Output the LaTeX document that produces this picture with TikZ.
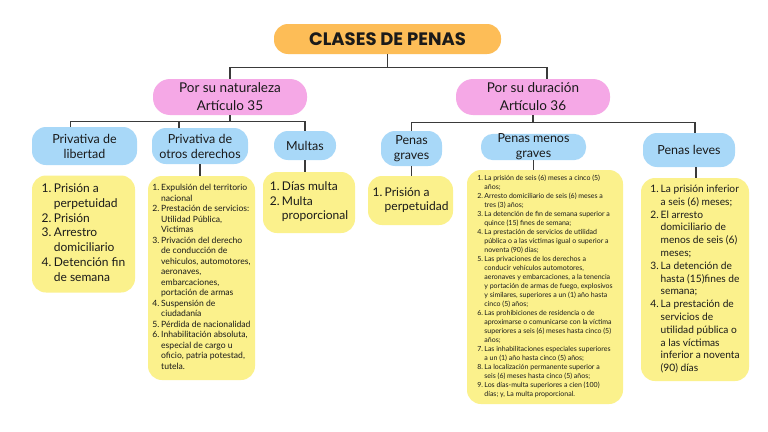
\documentclass[tikz,border=0pt]{standalone}
\usepackage{fontspec}
\setmainfont{Lato}
\newfontfamily\titlefont{Poppins}
\definecolor{naranja}{HTML}{FDBD57}
\definecolor{rosa}{HTML}{F5A8E6}
\definecolor{celeste}{HTML}{A8D8F8}
\definecolor{amarillo}{HTML}{FBF18C}
\definecolor{gris}{HTML}{3A3A3A}
\definecolor{tinta}{HTML}{1A1A1A}
\newcommand{\listado}[3]{{\fontsize{#1}{#2}\selectfont\begin{tabular}{@{}r@{\hspace{.2em}}l@{}}#3\end{tabular}}}
\tikzset{
	linea/.style={draw=gris,line width=1.2pt},
	titulo/.style={fill=naranja,rounded corners=14pt,minimum width=227pt,minimum height=30pt,inner sep=0pt,text=tinta,font=\titlefont\bfseries\fontsize{18}{20}\selectfont},
	tipo/.style={fill=rosa,rounded corners=17pt,minimum width=154pt,minimum height=36pt,inner sep=0pt,align=center,text=tinta,font=\fontsize{13.5}{18}\selectfont},
	clase/.style={fill=celeste,rounded corners=14pt,inner sep=0pt,align=center,text=tinta,font=\fontsize{12.5}{15}\selectfont},
	lista/.style={fill=amarillo,rounded corners=14pt,inner sep=0pt,text=tinta},
}
\begin{document}
\begin{tikzpicture}[x=1pt,y=-1pt]
	\useasboundingbox (0,0) rectangle (768,431);
	\fill[white] (0,0) rectangle (768,431);
	% titulo y tipos
	\node[titulo] (clases) at (387.5,39) {CLASES DE PENAS};
	\node[tipo] (nat) at (230,97) {Por su naturaleza\\Artículo 35};
	\node[tipo] (dur) at (533,97) {Por su duración\\Artículo 36};
	% clases
	\node[clase,minimum width=105pt,minimum height=38pt] (libertad) at (84.5,146) {Privativa de\\libertad};
	\node[clase,minimum width=96pt,minimum height=36pt] (derechos) at (200,146) {Privativa de\\otros derechos};
	\node[clase,minimum width=62pt,minimum height=29pt] (multas) at (305,145.5) {Multas};
	\node[clase,minimum width=61pt,minimum height=35pt] (graves) at (411.5,148.5) {Penas\\graves};
	\node[clase,rounded corners=12pt,minimum width=105pt,minimum height=26pt] (menos) at (533.5,147) {Penas menos\\graves};
	\node[clase,minimum width=92pt,minimum height=34pt] (leves) at (689,150) {Penas leves};
	% listas
	\node[lista,minimum width=103pt,minimum height=117pt] (l1) at (83.5,234) {\listado{12}{14.7}{%
		1. & Prisión a\\ & perpetuidad\\ 2. & Prisión\\ 3. & Arrestro\\ & domiciliario\\ 4. & Detención fin\\ & de semana}};
	\node[lista,minimum width=107pt,minimum height=204pt] (l2) at (201.5,278) {\listado{8.6}{10.5}{%
		1. & Expulsión del territorio\\ & nacional\\
		2. & Prestación de servicios:\\ & Utilidad Pública,\\ & Victimas\\
		3. & Privación del derecho\\ & de conducción de\\ & vehiculos, automotores,\\ & aeronaves,\\ & embarcaciones,\\ & portación de armas\\
		4. & Suspensión de\\ & ciudadanía\\
		5. & Pérdida de nacionalidad\\
		6. & Inhabilitación absoluta,\\ & especial de cargo u\\ & oficio, patria potestad,\\ & tutela.}};
	\node[lista,minimum width=92pt,minimum height=61pt] (l3) at (309,202.5) {\listado{12}{14.5}{%
		1. & Días multa\\ 2. & Multa\\ & proporcional}};
	\node[lista,minimum width=85pt,minimum height=49pt] (l4) at (410.5,200.5) {\listado{12}{14.5}{%
		1. & Prisión a\\ & perpetuidad}};
	\node[lista,minimum width=156pt,minimum height=234pt] (l5) at (545,287) {\listado{7}{9}{%
		1. & La prisión de seis (6) meses a cinco (5)\\ & años;\\
		2. & Arresto domiciliario de seis (6) meses a\\ & tres (3) años;\\
		3. & La detención de fin de semana superior a\\ & quince (15) fines de semana;\\
		4. & La prestación de servicios de utilidad\\ & pública o a las víctimas igual o superior a\\ & noventa (90) días;\\
		5. & Las privaciones de los derechos a\\ & conducir vehículos automotores,\\ & aeronaves y embarcaciones, a la tenencia\\ & y portación de armas de fuego, explosivos\\ & y similares, superiores a un (1) año hasta\\ & cinco (5) años;\\
		6. & Las prohibiciones de residencia o de\\ & aproximarse o comunicarse con la víctima\\ & superiores a seis (6) meses hasta cinco (5)\\ & años;\\
		7. & Las inhabilitaciones especiales superiores\\ & a un (1) año hasta cinco (5) años;\\
		8. & La localización permanente superior a\\ & seis (6) meses hasta cinco (5) años;\\
		9. & Los días-multa superiores a cien (100)\\ & días; y, La multa proporcional.}};
	\node[lista,minimum width=108pt,minimum height=203pt] (l6) at (695,279.5) {\listado{10.2}{12.8}{%
		1. & La prisión inferior\\ & a seis (6) meses;\\
		2. & El arresto\\ & domiciliario de\\ & menos de seis (6)\\ & meses;\\
		3. & La detención de\\ & hasta (15)fines de\\ & semana;\\
		4. & La prestación de\\ & servicios de\\ & utilidad pública o\\ & a las víctimas\\ & inferior a noventa\\ & (90) días}};
	% conectores
	\draw[linea] (clases.south) -- ++(0,13) -| (nat.north);
	\draw[linea] (clases.south) ++(0,13) -| ([xshift=14pt]dur.north);
	\draw[linea] (nat.south) -- ++(0,6) coordinate (n1);
	\draw[linea] ([xshift=-14pt]libertad.north) |- (n1);
	\draw[linea] ([xshift=-21pt]derechos.north) |- (n1);
	\draw[linea] (multas.north) |- (n1);
	\draw[linea] (dur.south) -- ++(0,7) coordinate (d1);
	\draw[linea] (graves.north) |- (d1);
	\draw[linea] ([xshift=6pt]leves.north) |- (d1);
	\draw[linea] (derechos.south) -- (derechos.south |- l2.north);
	\draw[linea] (multas.south) -- (multas.south |- l3.north);
	\draw[linea] (graves.south) -- (graves.south |- l4.north);
	\draw[linea] (menos.south) -- (menos.south |- l5.north);
	\draw[linea] ([xshift=7pt]leves.south) -- ([xshift=7pt]leves.south |- l6.north);
\end{tikzpicture}
\end{document}
